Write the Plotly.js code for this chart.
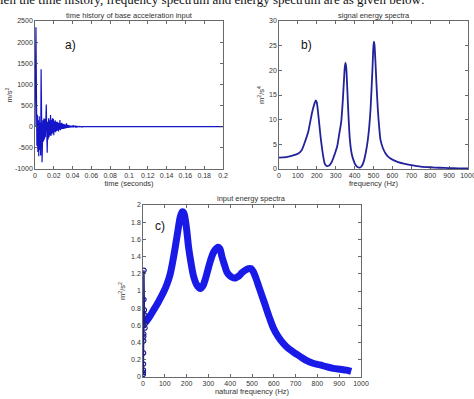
<!DOCTYPE html>
<html>
<head>
<meta charset="utf-8">
<script src="https://cdn.plot.ly/plotly-3.0.1.min.js"></script>
<style>html,body{margin:0;padding:0;background:#fff;}#chart{width:474px;height:399px;}</style>
</head>
<body>
<div id="chart"></div>
<script>
// ---------- panel a: time history of base acceleration input ----------
const accSampleInterval = 0.0005; // seconds between samples
const accValues = [
  0, 1800, 2350, 900, -450, 280, -600, 150, -700, 250,
  -550, 100, -680, 1360, 300, -840, -200, 150, -350, 200,
  -300, 180, -250, 300, 527, -100, -613, 120, -300, 200,
  -250, 150, -200, 275, -220, 160, -180, 200, -150, 190,
  -200, 130, -120, 150, -130, 110, -100, 120, -90, 100,
  -110, 90, -70, 157, -80, 80, -60, 90, -55, 70,
  -50, 60, -45, 55, -40, 50, -35, 80, -30, 45,
  -25, 35, -20, 30, -20, 25, -15, 22, -12, 20,
  -12, 35, -10, 15, -8, 12, -6, 10, -5, 8,
  -5, 6, -4, 8, -3, 5, -3, 6, -2, 4,
  -2, 3, -2, 4, -1, 2, -1, 3, -1, 1, 0
];
const accEndTime = 0.2;
const accEndValue = 0;
const accYTickVals = [-1000, -500, 0, 500, 1000, 1500, 2000, 2500];
const accYTickText = ["-1000", "-500", "0", "500", "1000", "1500", "2000", "2500"];
const accXTickVals = [0, 0.02, 0.04, 0.06, 0.08, 0.1, 0.12, 0.14, 0.16, 0.18, 0.2];
const accXTickText = ["0", "0.02", "0.04", "0.06", "0.08", "0.1", "0.12", "0.14", "0.16", "0.18", "0.2"];

// ---------- panel b: signal energy spectra ----------
const sigFreq = [0, 25, 50, 75, 100, 120, 141, 155, 167, 176, 185, 190, 195, 200, 211, 220, 229, 236, 241, 248, 255, 262, 270, 280, 290, 300, 308, 320, 329, 337, 343, 348, 352, 356, 361, 368, 375, 385, 396, 405, 415, 428, 438, 449, 460, 470, 478, 484, 490, 495, 499, 502, 505, 510, 516, 523, 530, 537, 550, 563, 580, 600, 630, 660, 700, 750, 800, 850, 900, 950, 1000];
const sigEnergy = [2.3, 2.35, 2.5, 2.75, 3.1, 3.8, 5.9, 7.6, 9.9, 11.6, 12.9, 13.5, 13.9, 13.5, 9.9, 6.5, 3.8, 2.1, 1.2, 0.75, 0.6, 0.65, 0.9, 1.5, 2.5, 3.6, 4.6, 7.4, 9.5, 13.5, 17.5, 20.6, 21.5, 20.5, 16.5, 10.5, 5.9, 3.0, 1.6, 0.8, 0.4, 0.27, 0.6, 1.6, 3.5, 5.9, 8.8, 11.9, 16.5, 20.7, 24.5, 25.8, 25.2, 22, 17, 12, 8.5, 5.9, 4.2, 3.2, 2.4, 1.9, 1.4, 1.1, 0.8, 0.5, 0.35, 0.25, 0.18, 0.13, 0.1];
const sigYTickVals = [0, 5, 10, 15, 20, 25, 30];
const sigXTickVals = [0, 100, 200, 300, 400, 500, 600, 700, 800, 900, 1000];
const sigXTickText = ["0", "100", "200", "300", "400", "500", "600", "700", "800", "900", "1000"];

// ---------- panel c: input energy spectra ----------
const lowNatFreq = [1, 1.2, 1.5, 1.8, 2.2, 2.6, 3.0, 3.3, 3.6, 3.9, 4.2, 6, 8, 9, 10];
const lowInputEnergy = [0.03, 0.05, 0.08, 0.15, 0.28, 0.42, 0.47, 0.5, 0.6, 0.9, 1.24, 0.78, 0.72, 0.57, 0.62];
const natFreq = [10, 30, 49, 70, 95, 110, 125, 137, 148, 160, 171, 180, 187, 194, 201, 209, 220, 232, 247, 263, 275, 285, 297, 308, 320, 331, 344, 353, 362, 373, 385, 397, 408, 420, 430, 442, 453, 468, 484, 496, 507, 518, 530, 545, 560, 580, 598, 620, 644, 668, 690, 720, 751, 780, 812, 840, 873, 905, 934, 955];
const inputEnergy = [0.63, 0.7, 0.78, 0.87, 0.99, 1.08, 1.2, 1.35, 1.51, 1.7, 1.86, 1.92, 1.91, 1.83, 1.7, 1.51, 1.33, 1.17, 1.07, 1.03, 1.06, 1.13, 1.24, 1.34, 1.43, 1.48, 1.51, 1.49, 1.4, 1.31, 1.22, 1.18, 1.16, 1.15, 1.16, 1.18, 1.21, 1.24, 1.26, 1.26, 1.22, 1.15, 1.06, 0.95, 0.84, 0.69, 0.57, 0.47, 0.39, 0.33, 0.29, 0.24, 0.19, 0.16, 0.14, 0.12, 0.10, 0.09, 0.08, 0.066];
const inYTickVals = [0, 0.2, 0.4, 0.6, 0.8, 1, 1.2, 1.4, 1.6, 1.8, 2];
const inXTickVals = [0, 100, 200, 300, 400, 500, 600, 700, 800, 900, 1000];

// ---------- build ----------
const accTime = accValues.map((_, i) => i * accSampleInterval);
accTime.push(accEndTime);
const accAll = accValues.concat([accEndValue]);

const W = 474, H = 399;
const px = v => v / W;
const py = v => 1 - v / H;

const tickFont = {family: "Liberation Sans, Arial, sans-serif", size: 7, color: "#333"};
const titleFont = {family: "Liberation Sans, Arial, sans-serif", size: 7.5, color: "#333"};

function axis(extra) {
  return Object.assign({
    showline: true, mirror: "ticks", linecolor: "#444", linewidth: 0.8,
    ticks: "inside", ticklen: 3, tickwidth: 0.8, tickcolor: "#444",
    showgrid: false, zeroline: false, tickfont: tickFont, fixedrange: true,
    ticklabeloverflow: "allow"
  }, extra);
}

const traces = [
  {x: accTime, y: accAll, type: "scatter", mode: "lines",
   line: {color: "#1414c8", width: 1.2}, xaxis: "x", yaxis: "y", hoverinfo: "skip"},
  {x: sigFreq, y: sigEnergy, type: "scatter", mode: "lines",
   line: {color: "#22229a", width: 1.8, shape: "spline", smoothing: 0.6}, xaxis: "x2", yaxis: "y2", hoverinfo: "skip"},
  {x: natFreq, y: inputEnergy, type: "scatter", mode: "lines",
   line: {color: "#1a1ae8", width: 7, shape: "spline", smoothing: 0.8}, xaxis: "x3", yaxis: "y3", hoverinfo: "skip"},
  {x: lowNatFreq, y: lowInputEnergy, type: "scatter", mode: "lines+markers",
   line: {color: "#1c1c90", width: 1.5},
   marker: {symbol: "circle-open", size: 4.5, color: "#1c1c90", line: {width: 1.2}},
   xaxis: "x3", yaxis: "y3", hoverinfo: "skip"}
];

const layout = {
  width: W, height: H,
  margin: {l: 0, r: 0, t: 0, b: 0},
  paper_bgcolor: "#fff", plot_bgcolor: "#fff",
  showlegend: false,
  xaxis: axis({domain: [px(35), px(223)], range: [0, 0.2], tickvals: accXTickVals, ticktext: accXTickText,
    anchor: "y", title: {text: "time (seconds)", font: titleFont, standoff: 2}}),
  yaxis: axis({domain: [py(169), py(21)], range: [-1000, 2500], tickvals: accYTickVals, ticktext: accYTickText,
    anchor: "x", title: {text: "m/s<sup>2</sup>", font: titleFont, standoff: 1}}),
  xaxis2: axis({domain: [px(279), px(468)], range: [0, 1000], tickvals: sigXTickVals, ticktext: sigXTickText,
    anchor: "y2", title: {text: "frequency (Hz)", font: titleFont, standoff: 2}}),
  yaxis2: axis({domain: [py(169), py(21)], range: [0, 30], tickvals: sigYTickVals,
    anchor: "x2", title: {text: "m<sup>2</sup>/s<sup>4</sup>", font: titleFont, standoff: 3}}),
  xaxis3: axis({domain: [px(143), px(361)], range: [0, 1000], tickvals: inXTickVals,
    anchor: "y3", title: {text: "natural frequency (Hz)", font: titleFont, standoff: 2}}),
  yaxis3: axis({domain: [py(377), py(205)], range: [0, 2], tickvals: inYTickVals,
    anchor: "x3", title: {text: "m<sup>2</sup>/s<sup>2</sup>", font: titleFont, standoff: 4}}),
  annotations: [
    {text: "ien the time history, frequency spectrum and energy spectrum are as given below:",
     xref: "paper", yref: "paper", x: 0, y: 1, xanchor: "left", yanchor: "middle", yshift: 1, xshift: -2,
     showarrow: false, font: {family: "Liberation Serif, Times New Roman, serif", size: 13, color: "#111"}},
    {text: "time history of base acceleration input", xref: "paper", yref: "paper",
     x: px(129), y: py(15), xanchor: "center", yanchor: "middle", showarrow: false, font: titleFont},
    {text: "signal energy spectra", xref: "paper", yref: "paper",
     x: px(374), y: py(15), xanchor: "center", yanchor: "middle", showarrow: false, font: titleFont},
    {text: "input energy spectra", xref: "paper", yref: "paper",
     x: px(252), y: py(198), xanchor: "center", yanchor: "middle", showarrow: false, font: titleFont},
    {text: "a)", xref: "paper", yref: "paper", x: px(63), y: py(45), xanchor: "left", yanchor: "middle",
     showarrow: false, font: {family: "Liberation Sans, Arial, sans-serif", size: 12, color: "#111"}},
    {text: "b)", xref: "paper", yref: "paper", x: px(299), y: py(45), xanchor: "left", yanchor: "middle",
     showarrow: false, font: {family: "Liberation Sans, Arial, sans-serif", size: 12, color: "#111"}},
    {text: "c)", xref: "paper", yref: "paper", x: px(153), y: py(226), xanchor: "left", yanchor: "middle",
     showarrow: false, font: {family: "Liberation Sans, Arial, sans-serif", size: 12, color: "#111"}}
  ]
};

Plotly.newPlot("chart", traces, layout, {staticPlot: true, displayModeBar: false});
</script>
</body>
</html>
